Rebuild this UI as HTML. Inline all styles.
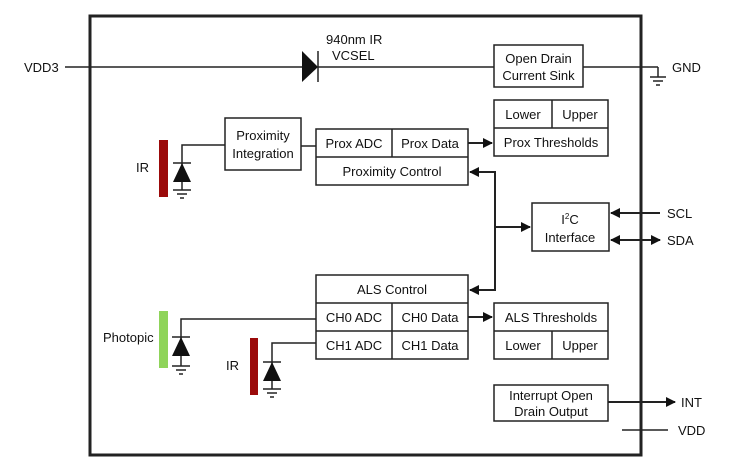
<!DOCTYPE html>
<html><head><meta charset="utf-8"><style>
html,body{margin:0;padding:0;background:#fff;}
svg{display:block;font-family:"Liberation Sans",Arial,sans-serif;}
text{font-size:13px;fill:#111;}
</style></head><body>
<svg width="740" height="472" viewBox="0 0 740 472" xmlns="http://www.w3.org/2000/svg">
<defs>
<marker id="a" viewBox="0 0 10 10" refX="9" refY="5" markerWidth="5" markerHeight="5" orient="auto-start-reverse"><path d="M0,0 L10,5 L0,10 z" fill="#111"/></marker>
</defs>
<g fill="none" stroke="#222" stroke-width="1.5">
<!-- outer -->
<rect x="90" y="16" width="551" height="439" stroke-width="3"/>
<!-- VDD3 line -->
<line x1="65" y1="67" x2="302" y2="67"/>
<line x1="318" y1="67" x2="494" y2="67"/>
<line x1="583" y1="67" x2="658" y2="67"/>
<line x1="658" y1="67" x2="658" y2="77"/>
<line x1="650" y1="77" x2="666" y2="77"/>
<line x1="653" y1="81" x2="663" y2="81"/>
<line x1="656" y1="85" x2="660" y2="85"/>
<line x1="318" y1="51" x2="318" y2="82"/>
<!-- boxes -->
<rect x="494" y="45" width="89" height="42"/>
<rect x="494" y="100" width="114" height="56"/>
<line x1="494" y1="128" x2="608" y2="128"/><line x1="552" y1="100" x2="552" y2="128"/>
<rect x="225" y="118" width="76" height="52"/>
<rect x="316" y="129" width="152" height="56"/>
<line x1="316" y1="157" x2="468" y2="157"/><line x1="392" y1="129" x2="392" y2="157"/>
<rect x="532" y="203" width="77" height="48"/>
<rect x="316" y="275" width="152" height="84"/>
<line x1="316" y1="303" x2="468" y2="303"/><line x1="316" y1="331" x2="468" y2="331"/><line x1="392" y1="303" x2="392" y2="359"/>
<rect x="494" y="303" width="114" height="56"/>
<line x1="494" y1="331" x2="608" y2="331"/><line x1="552" y1="331" x2="552" y2="359"/>
<rect x="494" y="385" width="114" height="36"/>
<!-- connections -->
<line x1="301" y1="146" x2="316" y2="146"/>
<line x1="468" y1="143" x2="492" y2="143" stroke-width="2" marker-end="url(#a)"/>
<line x1="468" y1="317" x2="492" y2="317" stroke-width="2" marker-end="url(#a)"/>
<polyline points="470,172 495,172 495,290 470,290" stroke-width="2" marker-start="url(#a)" marker-end="url(#a)"/>
<line x1="495" y1="227" x2="530" y2="227" stroke-width="2" marker-end="url(#a)"/>
<line x1="660" y1="213" x2="611" y2="213" stroke-width="2" marker-end="url(#a)"/>
<line x1="611" y1="240" x2="660" y2="240" stroke-width="2" marker-start="url(#a)" marker-end="url(#a)"/>
<line x1="608" y1="402" x2="675" y2="402" stroke-width="2" marker-end="url(#a)"/>
<line x1="622" y1="430" x2="668" y2="430"/>
<!-- IR1 diode wire -->
<polyline points="182,182 182,145 225,145"/>
<line x1="173" y1="163" x2="191" y2="163"/>
<line x1="182" y1="182" x2="182" y2="190"/>
<line x1="173" y1="190" x2="191" y2="190"/><line x1="177" y1="194" x2="187" y2="194"/><line x1="180" y1="198" x2="184" y2="198"/>
<!-- photopic diode -->
<polyline points="181,356 181,319 316,319"/>
<line x1="172" y1="337" x2="190" y2="337"/>
<line x1="181" y1="356" x2="181" y2="366"/>
<line x1="172" y1="366" x2="190" y2="366"/><line x1="176" y1="370" x2="186" y2="370"/><line x1="179" y1="374" x2="183" y2="374"/>
<!-- IR2 diode -->
<polyline points="272,381 272,343 316,343"/>
<line x1="263" y1="362" x2="281" y2="362"/>
<line x1="272" y1="381" x2="272" y2="389"/>
<line x1="263" y1="389" x2="281" y2="389"/><line x1="267" y1="393" x2="277" y2="393"/><line x1="270" y1="397" x2="274" y2="397"/>
</g>
<g fill="#111">
<path d="M302,51 L318,67 L302,82 z"/>
<path d="M182,163 L173,182 L191,182 z"/>
<path d="M181,337 L172,356 L190,356 z"/>
<path d="M272,362 L263,381 L281,381 z"/>
</g>
<rect x="159" y="140" width="9" height="57" fill="#9b0a0a"/>
<rect x="159" y="311" width="9" height="57" fill="#8fd45a"/>
<rect x="250" y="338" width="8" height="57" fill="#9b0a0a"/>
<text x="24" y="72">VDD3</text>
<text x="326" y="44" font-size="12">940nm IR</text>
<text x="332" y="60" font-size="12">VCSEL</text>
<text x="538.5" y="63" text-anchor="middle">Open Drain</text>
<text x="538.5" y="80" text-anchor="middle">Current Sink</text>
<text x="672" y="72">GND</text>
<text x="523" y="119" text-anchor="middle">Lower</text>
<text x="580" y="119" text-anchor="middle">Upper</text>
<text x="551" y="147" text-anchor="middle">Prox Thresholds</text>
<text x="263" y="140" text-anchor="middle">Proximity</text>
<text x="263" y="158" text-anchor="middle">Integration</text>
<text x="354" y="148" text-anchor="middle">Prox ADC</text>
<text x="430" y="148" text-anchor="middle">Prox Data</text>
<text x="392" y="176" text-anchor="middle">Proximity Control</text>
<text x="136" y="172">IR</text>
<text x="570" y="224" text-anchor="middle">I<tspan font-size="8" dy="-5">2</tspan><tspan dy="5">C</tspan></text>
<text x="570" y="242" text-anchor="middle">Interface</text>
<text x="667" y="218">SCL</text>
<text x="667" y="245">SDA</text>
<text x="392" y="294" text-anchor="middle">ALS Control</text>
<text x="354" y="322" text-anchor="middle">CH0 ADC</text>
<text x="430" y="322" text-anchor="middle">CH0 Data</text>
<text x="354" y="350" text-anchor="middle">CH1 ADC</text>
<text x="430" y="350" text-anchor="middle">CH1 Data</text>
<text x="551" y="322" text-anchor="middle">ALS Thresholds</text>
<text x="523" y="350" text-anchor="middle">Lower</text>
<text x="580" y="350" text-anchor="middle">Upper</text>
<text x="103" y="342" font-size="12">Photopic</text>
<text x="226" y="370" font-size="12">IR</text>
<text x="551" y="400" text-anchor="middle">Interrupt Open</text>
<text x="551" y="416" text-anchor="middle">Drain Output</text>
<text x="681" y="407">INT</text>
<text x="678" y="435">VDD</text>
</svg>
</body></html>
